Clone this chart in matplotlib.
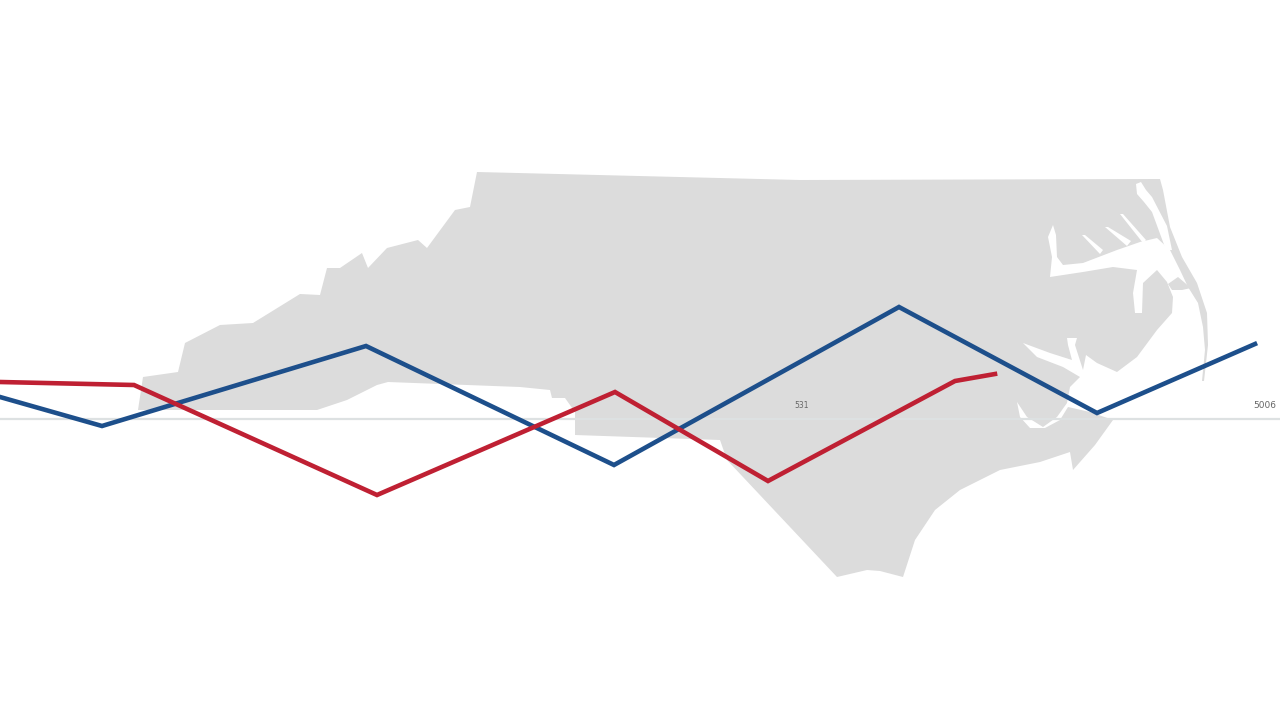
import matplotlib.pyplot as plt
from matplotlib.patches import Polygon

# Data for plotting
blue_x = [0, 102, 366, 614, 899, 1097, 1255]
blue_y = [397, 426, 346, 465, 307, 413, 344]
red_x = [0, 134, 377, 615, 768, 955, 995]
red_y = [382, 385, 495, 392, 481, 381, 374]

grid_y = 419
tick_labels = ['531', '5006']
tick_x = [802, 1265]
tick_y = [406, 406]
tick_sizes = [5.5, 6.5]

# state outline, walked clockwise from the north west corner
state_x = [477, 800, 1160, 1163, 1170, 1182, 1197, 1207, 1208, 1204, 1202, 1205, 1203, 1198,
           1188, 1180, 1170, 1157, 1140, 1117, 1083, 1063, 1057, 1056, 1053, 1048, 1052, 1050,
           1083, 1113, 1137, 1133, 1135, 1142, 1143, 1157, 1167, 1173, 1172, 1157, 1137, 1117,
           1097, 1086, 1083, 1075, 1077, 1067, 1068, 1072, 1050, 1023, 1037, 1063, 1080, 1070,
           1067, 1057, 1043, 1027, 1017, 1020, 1030, 1045, 1060, 1068, 1090, 1113, 1095, 1073,
           1070, 1040, 1000, 960, 935, 915, 903, 880, 867, 837, 727, 720, 575, 575, 565, 552,
           550, 520, 388, 377, 347, 317, 138, 143, 178, 185, 220, 253, 300, 320, 327, 340,
           362, 368, 387, 418, 427, 455, 470]
state_y = [172, 180, 179, 190, 227, 257, 283, 313, 345, 381, 381, 350, 327, 303,
           287, 270, 250, 238, 242, 250, 263, 265, 257, 235, 225, 237, 257, 277,
           272, 267, 270, 293, 313, 313, 283, 270, 282, 297, 313, 330, 357, 372,
           363, 355, 370, 345, 338, 338, 345, 360, 353, 343, 357, 367, 377, 387,
           403, 417, 427, 417, 402, 417, 428, 428, 420, 407, 412, 420, 445, 470,
           452, 462, 470, 490, 510, 540, 577, 571, 570, 577, 460, 440, 435, 412, 398, 398,
           390, 387, 382, 385, 400, 410, 410, 377, 372, 343, 325, 323, 294, 295, 268, 268,
           253, 268, 248, 240, 248, 210, 207]

# white inlets on top of the state
inlets = {
    'currituck': ([1136, 1141, 1146, 1152, 1167, 1172, 1166, 1152, 1144, 1137],
                  [184, 182, 190, 197, 226, 250, 250, 212, 202, 194]),
    'alligator': ([1120, 1123, 1146, 1143], [214, 214, 240, 243]),
    'pungo': ([1105, 1108, 1131, 1127], [227, 227, 241, 246]),
    'scuppernong': ([1082, 1085, 1103, 1100], [235, 235, 250, 254]),
}
roanoke_x = [1168, 1178, 1191, 1182, 1172]
roanoke_y = [284, 277, 288, 290, 290]

fig = plt.figure(figsize=(12.8, 7.2), dpi=100)
ax = fig.add_axes([0, 0, 1, 1])
ax.set_xlim(0, 1280)
ax.set_ylim(720, 0)
ax.axis('off')

ax.add_patch(Polygon(list(zip(state_x, state_y)), closed=True, fc='#dcdcdc', ec='none', zorder=1))
for xs, ys in inlets.values():
    ax.add_patch(Polygon(list(zip(xs, ys)), closed=True, fc='white', ec='none', zorder=2))
ax.add_patch(Polygon(list(zip(roanoke_x, roanoke_y)), closed=True, fc='#dcdcdc', ec='none', zorder=2))

ax.axhline(grid_y, color='#dde1e2', lw=1.6, zorder=3)

ax.plot(blue_x, blue_y, color='#1d4f8b', lw=3.3, solid_joinstyle='miter', zorder=4)
ax.plot(red_x, red_y, color='#bf2033', lw=3.3, solid_joinstyle='miter', zorder=5)

for x, y, s, size in zip(tick_x, tick_y, tick_labels, tick_sizes):
    ax.text(x, y, s, ha='center', va='center', fontsize=size, color='#666666', zorder=6)

fig.savefig('out.png', dpi=100)
